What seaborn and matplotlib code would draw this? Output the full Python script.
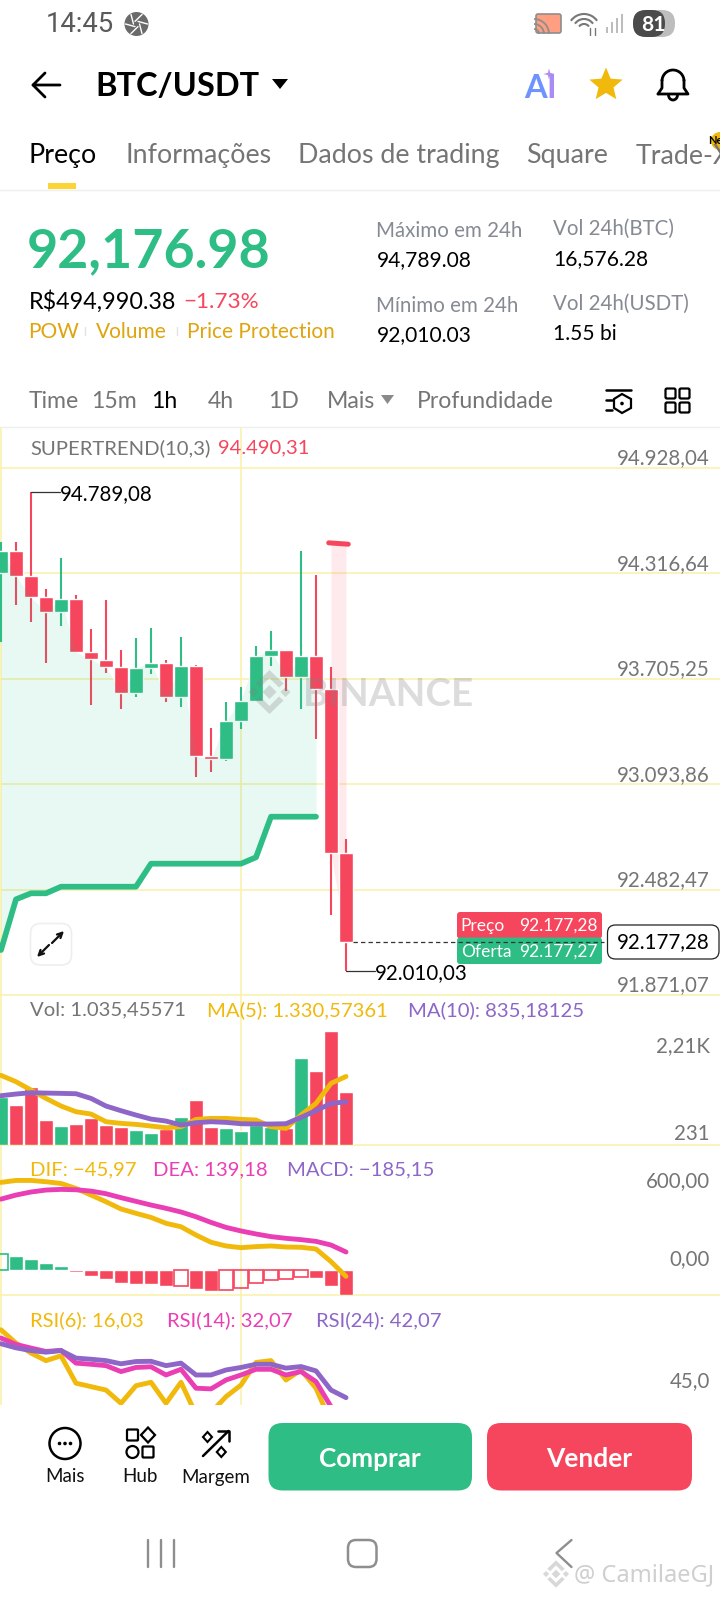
import numpy as np
import pandas as pd
import seaborn as sns
import matplotlib.pyplot as plt
from matplotlib.patches import FancyBboxPatch, Circle, Polygon, Arc, Rectangle

# candles
opens = [94317.2, 94446.6, 94301.5, 94178.0, 94094.5, 94168.1, 93859.0, 93814.3, 93772.0, 93621.1, 93767.9, 93798.6,
         93601.4, 93779.5, 93255.6, 93240.0, 93462.2, 93578.2, 93837.5, 93870.5, 93715.7, 93835.7, 93647.8, 92693.0]
closes = [94446.6, 94303.3, 94178.0, 94094.5, 94168.1, 93859.0, 93818.3, 93772.0, 93621.1, 93767.9, 93798.6, 93601.4,
          93779.5, 93255.6, 93240.0, 93462.2, 93578.2, 93837.5, 93870.5, 93715.7, 93835.7, 93647.8, 92693.0, 92177.28]
highs = [94498.8, 94498.8, 94789.08, 94226.1, 94404.2, 94191.3, 93992.4, 94160.6, 93870.5, 93941.9, 93998.2, 93814.3,
         93949.4, 93785.0, 93419.9, 93570.6, 93655.9, 93895.5, 93980.7, 93870.5, 94444.8, 94307.3, 93775.4, 92774.2]
lows = [93920.4, 94133.3, 94036.5, 93798.6, 94011.5, 93859.0, 93553.2, 93737.1, 93528.3, 93601.4, 93733.1, 93570.6,
        93538.8, 93137.3, 93166.3, 93230.1, 93412.3, 93572.4, 93781.2, 93636.2, 93531.8, 93354.3, 92335.1, 92010.03]
st_green = [92132.1, 92426.1, 92461.0, 92461.0, 92499.2, 92499.2, 92499.2, 92499.2, 92499.2, 92499.2, 92632.7, 92632.7,
            92632.7, 92632.7, 92632.7, 92632.7, 92632.7, 92669.8, 92905.3, 92905.3, 92905.3, 92905.3]
st_red = [94494.0, 94486.0]
price_ticks = [94928.04, 94316.64, 93705.25, 93093.86, 92482.47, 91871.07]
price_labels = ["94.928,04", "94.316,64", "93.705,25", "93.093,86", "92.482,47", "91.871,07"]

# volume panel
volumes = [924, 768, 1131, 476, 371, 398, 527, 384, 339, 287, 234, 308, 540, 866, 351, 332, 273, 384, 351, 320, 1690, 1431, 2223, 1035.46]
ma5 = [1352, 1228, 1066, 903, 754, 643, 598, 448, 416, 396, 364, 331, 351, 494, 513, 513, 494, 481, 351, 318, 578, 806, 1196, 1330.57]
ma10 = [955, 988, 1014, 1007, 1001, 994, 903, 754, 663, 578, 500, 461, 383, 429, 448, 435, 409, 403, 403, 409, 533, 663, 806, 835.18]

# macd panel
dif = [668, 683, 683, 673, 660, 622, 572, 521, 466, 433, 402, 357, 331, 268, 213, 185, 172, 180, 185, 177, 175, 162, 66, -45.97]
dea = [541, 572, 595, 610, 615, 612, 602, 582, 552, 524, 496, 471, 443, 407, 364, 326, 299, 276, 256, 243, 233, 220, 192, 139.18]
macd = [124, 111, 86, 56, 33, -12, -40, -66, -96, -104, -106, -119, -116, -144, -157, -152, -134, -99, -73, -66, -53, -56, -116, -185.15]
macd_hollow = [0, 12, 15, 16, 17, 18, 19, 20]

# rsi panel
rsi6 = [71.8, 66.0, 61.6, 58.3, 60.4, 48.4, 46.9, 45.4, 39.6, 47.3, 48.8, 39.6, 48.8, 34.7, 35.5, 42.5, 47.6, 57.5, 58.3, 49.8, 54.2, 46.2, 31.2, 16.03]
rsi14 = [68.2, 65.4, 63.8, 62.3, 62.8, 57.2, 56.7, 56.1, 53.5, 55.3, 55.6, 52.0, 54.5, 46.2, 45.9, 49.8, 52.0, 54.5, 54.5, 52.0, 53.5, 49.1, 38.1, 32.07]
rsi24 = [65.7, 63.9, 62.7, 62.0, 62.7, 59.4, 58.9, 58.3, 56.9, 57.9, 58.0, 56.1, 57.2, 52.0, 52.0, 54.2, 55.3, 56.7, 56.7, 55.0, 55.7, 53.8, 45.4, 42.07]

GREEN = "#2EBD85"
RED = "#F6465D"
YELLOW = "#F0B90B"
PINK = "#EA3FB4"
PURPLE = "#8D66C7"
GRID = "#FBF0A8"
GRAY = "#757575"
LIGHT = "#858A93"

sns.set_theme(style="white")
plt.rcParams["font.family"] = ["Lato", "DejaVu Sans"]

W, H = 720, 1600
fig = plt.figure(figsize=(W / 100, H / 100), dpi=100, facecolor="white")

idx = np.arange(len(closes))
colors = [GREEN if c >= o else RED for o, c in zip(opens, closes)]
hue = ["up" if c == GREEN else "down" for c in colors]
pal = {"up": GREEN, "down": RED}
XLIM = (-1 / 15, 719 / 15)


def panel(y0, y1, ylim):
    ax = fig.add_axes([0, 1 - y1 / H, 1, (y1 - y0) / H])
    ax.set_ylim(*ylim)
    return ax


def finish(ax):
    ax.set_xlim(*XLIM)
    ax.set_axis_off()
    ax.axvline(0, color=GRID, lw=1.1, zorder=1)
    ax.axvline(16, color=GRID, lw=1.1, zorder=1)


# pixel layer for everything that is app chrome
ui = fig.add_axes([0, 0, 1, 1], zorder=10)
ui.set_xlim(0, W)
ui.set_ylim(H, 0)
ui.set_axis_off()


def txt(x, y, s, size, color="black", ha="left", weight="normal", **kw):
    # Lato sits about a pixel high with va=center
    return ui.text(x, y + 1, s, fontsize=size, color=color, ha=ha, va="center", fontweight=weight, **kw)


def rbox(x0, y0, x1, y1, r, fc, ec="none", lw=0, z=2, target=None):
    p = FancyBboxPatch((x0, y0), x1 - x0, y1 - y0, boxstyle=f"round,pad=0,rounding_size={r}", fc=fc, ec=ec, lw=lw,
                       zorder=z, transform=ui.transData)
    (target or ui).add_patch(p)
    return p


def logo(cx, cy, k, color, alpha=1.0):
    d = [(0, 0, 7), (-16, 0, 5), (16, 0, 5)]
    for dx, dy, r in d:
        ui.add_patch(Polygon([(cx + k * (dx - r), cy + k * dy), (cx + k * dx, cy + k * (dy - r)),
                              (cx + k * (dx + r), cy + k * dy), (cx + k * dx, cy + k * (dy + r))],
                             fc=color, ec="none", alpha=alpha))
    for s in (-1, 1):
        ui.add_patch(Polygon([(cx - 14 * k, cy + s * 8.5 * k), (cx, cy + s * 22 * k), (cx + 14 * k, cy + s * 8.5 * k),
                              (cx + 9.5 * k, cy + s * 4.5 * k), (cx, cy + s * 14 * k), (cx - 9.5 * k, cy + s * 4.5 * k)],
                             fc=color, ec="none", alpha=alpha))


def star(cx, cy, r, n, inner, color):
    a = np.arange(2 * n) * np.pi / n - np.pi / 2
    rad = np.where(np.arange(2 * n) % 2 == 0, r, r * inner)
    ui.add_patch(Polygon(np.c_[cx + rad * np.cos(a), cy + rad * np.sin(a)], fc=color, ec="none"))


# ---- price panel
scale = (price_ticks[0] - price_ticks[-1]) / (995 - 468)
ax = panel(427, 995, (price_ticks[-1], price_ticks[0] + 41 * scale))
for p in price_ticks:
    ax.axhline(p, color=GRID, lw=1.1, zorder=1, clip_on=False)

bot = np.minimum(opens, closes)
top = np.maximum(opens, closes)
ax.vlines(idx, lows, highs, colors=colors, lw=1.5, zorder=3)
ax.bar(idx, top - bot, bottom=bot, width=0.867, color=colors, zorder=3)

ax.fill_between(idx[:22], st_green, closes[:22], color=GREEN, alpha=0.105, lw=0, zorder=4)
ax.fill_between(idx[22:], st_red, closes[22:], color=RED, alpha=0.11, lw=0, zorder=2)
sns.lineplot(x=idx[:22], y=st_green, color=GREEN, lw=4.1, ax=ax, zorder=5, errorbar=None, solid_capstyle="round")
sns.lineplot(x=[21.85, 23.15], y=st_red, color=RED, lw=3.6, ax=ax, zorder=5, errorbar=None, solid_capstyle="round")

# max / min call-outs
ax.plot([2, 3.93], [highs[2], highs[2]], color="#333333", lw=0.9, zorder=3)
ax.plot([23, 24.93], [lows[23], lows[23]], color="#333333", lw=0.9, zorder=3)
ax.annotate("94.789,08", (3.93, highs[2]), xytext=(0, -2), textcoords="offset pixels", fontsize=14.8, color="black", va="center")
ax.annotate("92.010,03", (24.93, lows[23]), xytext=(0, -2), textcoords="offset pixels", fontsize=14.8, color="black", va="center")

# bid / ask tags with the last price line through them
rbox(457, 912, 602, 938.5, 3, RED, z=6, target=ax)
rbox(457, 937.5, 602, 964, 3, GREEN, z=6, target=ax)
ax.plot([23.45, 40.2], [closes[-1], closes[-1]], color="#333333", lw=0.9, ls=(0, (3.5, 2.5)), zorder=7)
finish(ax)

for lab, p in zip(price_labels, price_ticks):
    ax.annotate(lab, (47.27, p), xytext=(0, 9.5), textcoords="offset pixels", fontsize=14.8, color=GRAY, ha="right", va="center", zorder=8)

# ---- volume panel
vol_k = 19.5
ax = panel(995, 1144.7, (0, 149.7 * vol_k))
df = pd.DataFrame({"i": idx, "vol": volumes, "dir": hue})
sns.barplot(data=df, x="i", y="vol", hue="dir", palette=pal, native_scale=True, dodge=False, legend=False,
            width=0.87, saturation=1, ax=ax, zorder=3)
sns.lineplot(x=idx, y=ma5, color=YELLOW, lw=3.5, ax=ax, zorder=4, errorbar=None)
sns.lineplot(x=idx, y=ma10, color=PURPLE, lw=3.5, ax=ax, zorder=5, errorbar=None)
ax.set_ylim(0, 149.7 * vol_k)
ax.axhline(0, color=GRID, lw=1.1, clip_on=False, zorder=1)
finish(ax)

# ---- macd panel
macd_k = 7.6
ax = panel(1144.7, 1294.7, (-24.4 * macd_k, 125.6 * macd_k))
df = pd.DataFrame({"i": idx, "macd": macd, "dir": ["up" if m > 0 else "down" for m in macd]})
hollow = df["i"].isin(macd_hollow)
sns.barplot(data=df[~hollow], x="i", y="macd", hue="dir", palette=pal, native_scale=True, dodge=False, legend=False,
            width=0.87, saturation=1, ax=ax, zorder=3)
sns.barplot(data=df[hollow], x="i", y="macd", hue="dir", palette=pal, native_scale=True, dodge=False, legend=False,
            width=0.87, saturation=1, fill=False, linewidth=1.2, ax=ax, zorder=3)
sns.lineplot(x=idx, y=dif, color=YELLOW, lw=3.5, ax=ax, zorder=4, errorbar=None)
sns.lineplot(x=idx, y=dea, color=PINK, lw=3.5, ax=ax, zorder=5, errorbar=None)
ax.set_ylim(-24.4 * macd_k, 125.6 * macd_k)
ax.axhline(-24.4 * macd_k, color=GRID, lw=1.1, clip_on=False, zorder=1)
finish(ax)

# ---- rsi panel
ax = panel(1294.7, 1405, (38.84, 87.2))
sns.lineplot(x=idx, y=rsi6, color=YELLOW, lw=3.5, ax=ax, zorder=4, errorbar=None)
sns.lineplot(x=idx, y=rsi14, color=PINK, lw=3.5, ax=ax, zorder=5, errorbar=None)
sns.lineplot(x=idx, y=rsi24, color=PURPLE, lw=3.5, ax=ax, zorder=6, errorbar=None)
ax.set_ylim(38.84, 87.2)
finish(ax)

# ---- chart legends and labels
LG = 14.6
txt(30, 447, "SUPERTREND(10,3)", LG, GRAY)
txt(218, 447, "94.490,31", LG, RED)
txt(30, 1009, "Vol: 1.035,45571", LG, GRAY)
txt(206.7, 1009, "MA(5): 1.330,57361", LG, YELLOW)
txt(408.3, 1009, "MA(10): 835,18125", LG, PURPLE)
txt(30, 1169, "DIF: −45,97", LG, YELLOW)
txt(153.3, 1169, "DEA: 139,18", LG, PINK)
txt(287.3, 1169, "MACD: −185,15", LG, PURPLE)
txt(30, 1319, "RSI(6): 16,03", LG, YELLOW)
txt(167.3, 1319, "RSI(14): 32,07", LG, PINK)
txt(316, 1319, "RSI(24): 42,07", LG, PURPLE)
for y, s in [(1045, "2,21K"), (1133, "231"), (1180, "600,00"), (1258.5, "0,00"), (1380, "45,0")]:
    txt(710, y, s, 14.8, GRAY, ha="right")

# tags text
txt(460.7, 925, "Preço", 12.5, "white")
txt(597.7, 925, "92.177,28", 12.5, "white", ha="right")
txt(460.7, 951, "Oferta", 12.5, "white")
txt(597.7, 951, "92.177,27", 12.5, "white", ha="right")
rbox(607.5, 925, 719, 959, 8, "white", ec="#222222", lw=0.9)
txt(710, 941, "92.177,28", 14.8, "black", ha="right")

# watermark
logo(269.5, 692, 1, "#808080", 0.27)
txt(303, 693, "BINANCE", 27.8, "#808080", weight="bold", alpha=0.27)

# expand button
rbox(30.5, 923.5, 71.5, 965, 10, "white", ec="#EEEEEE", lw=1.2)
ui.annotate("", (64, 931), (52, 943), arrowprops=dict(arrowstyle="->", color="#111111", lw=1.6, mutation_scale=9, shrinkA=0, shrinkB=0))
ui.annotate("", (37, 957), (49, 945), arrowprops=dict(arrowstyle="->", color="#111111", lw=1.6, mutation_scale=9, shrinkA=0, shrinkB=0))

# ---- status bar
txt(46, 24, "14:45", 19.8, "#5A5A5A", family="Roboto")
ui.add_patch(Circle((136.5, 24), 12, fc="#6A6A6A", ec="none"))
for a in np.arange(0, 360, 60):
    c, s = np.cos(np.radians(a)), np.sin(np.radians(a))
    ui.plot([136.5 + 3 * c, 136.5 + 11 * (c * 0.5 - s * 0.87)], [24 + 3 * s, 24 + 11 * (s * 0.5 + c * 0.87)], color="white", lw=1)
rbox(536, 14, 561, 33, 2, "#FF9E80", ec="#8E8E8E", lw=1.2)
for r in (5, 10, 15):
    ui.add_patch(Arc((534, 34), 2 * r, 2 * r, theta1=270, theta2=360, color="#8E8E8E", lw=1.3, zorder=3))
for r in (6, 11, 16):
    ui.add_patch(Arc((584, 30), 2 * r, 2 * r, theta1=215, theta2=325, color="#777777", lw=1.5))
ui.plot([590, 590], [28, 35], color="#777777", lw=1)
ui.plot([595, 595], [28, 35], color="#777777", lw=1)
for i, h in enumerate([6, 11, 15, 19]):
    ui.add_patch(Rectangle((606 + 5 * i, 33 - h), 2, h, fc="#BDBDBD", ec="none"))
rbox(633, 10, 675, 37, 13, "#BDBDBD")
rbox(633, 10, 665, 37, 13, "#4B4B4B", z=3)
txt(653, 24, "81", 15, "white", ha="center", weight="bold", zorder=4)

# ---- header
ui.plot([60, 33, 45], [85, 85, 73], color="black", lw=2, solid_capstyle="round")
ui.plot([33, 45], [85, 97], color="black", lw=2, solid_capstyle="round")
txt(95.5, 85, "BTC/USDT", 23.4, "black", weight="bold")
ui.add_patch(Polygon([(272, 79), (288, 79), (280, 89)], fc="black", ec="none"))
txt(524, 87, "A", 23.5, "#6E93FF", weight="bold")
txt(546, 87, "I", 23.5, "#A98BF5", weight="bold")
star(549, 74, 5.5, 4, 0.3, "#B58CF0")
star(606, 85, 17.5, 5, 0.45, YELLOW)
ui.plot([658, 662, 662], [94, 88, 80], color="black", lw=2)
ui.add_patch(Arc((673, 81), 22, 22, theta1=180, theta2=360, color="black", lw=2))
ui.plot([684, 684, 688, 658], [80, 88, 94, 94], color="black", lw=2)
ui.add_patch(Arc((673, 95), 9, 10, theta1=0, theta2=180, color="black", lw=2))

# tabs
TB = 19.3
txt(28.5, 155, "Preço", TB, "black")
txt(125.3, 155, "Informações", TB, GRAY)
txt(297.5, 155, "Dados de trading", TB, GRAY)
txt(526, 155, "Square", TB, GRAY)
txt(636, 155, "Trade-X", TB, GRAY)
ui.add_patch(Circle((720, 141), 9, fc=YELLOW, ec="none"))
txt(708, 140, "Ne", 8, "black", weight="bold")
ui.add_patch(Rectangle((48, 183), 28, 6, fc="#FCD535", ec="none"))
ui.plot([0, W], [189.5, 189.5], color="#EFEFEF", lw=1)

# ---- ticker
txt(27, 251, "92,176.98", 38.7, GREEN, weight="bold")
txt(28.5, 300.7, "R$494,990.38", 16.8, "black")
txt(183.7, 300.7, "−1.73%", 16.2, RED)
txt(28.5, 331, "POW", 15, "#DFA40E")
txt(96.4, 331, "Volume", 15, "#DFA40E")
txt(187.3, 331, "Price Protection", 15, "#DFA40E")
ui.plot([85.4, 85.4], [327, 335], color="#E3E3E3", lw=1)
ui.plot([176.8, 176.8], [327, 335], color="#E3E3E3", lw=1)
txt(376.5, 230, "Máximo em 24h", 14.8, LIGHT)
txt(376.5, 259, "94,789.08", 15.1, "black")
txt(376.5, 305, "Mínimo em 24h", 14.8, LIGHT)
txt(376.5, 334, "92,010.03", 15.1, "black")
txt(553.3, 227.7, "Vol 24h(BTC)", 14.8, LIGHT)
txt(553.3, 257.7, "16,576.28", 15.1, "black")
txt(553.3, 302.7, "Vol 24h(USDT)", 14.8, LIGHT)
txt(553.3, 332.7, "1.55 bi", 15.1, "black")

# ---- interval row
for x, s, c in [(28.5, "Time", GRAY), (91.5, "15m", GRAY), (151.5, "1h", "black"), (208, "4h", GRAY),
                (268.6, "1D", GRAY), (327, "Mais", GRAY), (416.4, "Profundidade", GRAY)]:
    txt(x, 400, s, 16.6, c)
ui.add_patch(Polygon([(381, 395), (394, 395), (387.5, 404)], fc="#8A8A8A", ec="none"))
ui.plot([606, 631], [389.5, 389.5], color="black", lw=1.8)
ui.plot([606, 612], [400, 400], color="black", lw=1.8)
ui.plot([606, 612], [410, 410], color="black", lw=1.8)
ui.add_patch(Polygon([(622, 394), (631, 399), (631, 408), (622, 413), (614, 408), (614, 399)], fc="white", ec="black", lw=1.6))
ui.add_patch(Circle((622, 403.5), 1.8, fc="black", ec="none"))
for x in (665.5, 679.5):
    for y in (388.5, 402.5):
        rbox(x, y, x + 10, y + 10, 1.5, "white", ec="black", lw=1.6)
ui.plot([0, W], [426.7, 426.7], color="#EFEFEF", lw=1)

# ---- bottom bar
ui.add_patch(Circle((65, 1443.5), 15.5, fc="white", ec="black", lw=1.8))
for dx in (-5.5, 0, 5.5):
    ui.add_patch(Circle((65 + dx, 1443.5), 1.8, fc="black", ec="none"))
rbox(127, 1429.5, 138, 1440.5, 1, "white", ec="black", lw=1.6)
rbox(142.5, 1446.5, 153.5, 1457.5, 1, "white", ec="black", lw=1.6)
ui.add_patch(Circle((132.5, 1452), 6, fc="white", ec="black", lw=1.6))
ui.add_patch(Polygon([(148, 1427.5), (155, 1435), (148, 1442.5), (141, 1435)], fc="white", ec="black", lw=1.6))
ui.plot([203, 228.5], [1456, 1431], color="black", lw=1.8)
ui.plot([218, 228.5, 228.5], [1431, 1431, 1441], color="black", lw=1.8)
for cx, cy in [(207.5, 1437), (221.3, 1452)]:
    ui.add_patch(Polygon([(cx, cy - 5), (cx + 4.5, cy), (cx, cy + 5), (cx - 4.5, cy)], fc="white", ec="black", lw=1.5))
for x, s in [(65, "Mais"), (140, "Hub"), (215.5, "Margem")]:
    txt(x, 1476, s, 13.5, "#111111", ha="center")
rbox(268.5, 1423, 472, 1490.5, 14, GREEN)
rbox(487, 1423, 692, 1490.5, 14, RED)
txt(370, 1458, "Comprar", 18.8, "white", ha="center", weight="bold", zorder=4)
txt(589, 1458, "Vender", 19, "white", ha="center", weight="bold", zorder=4)

# ---- nav bar and repost mark
for x in (148, 160.7, 173.5):
    ui.plot([x, x], [1540, 1567], color="#8E8E8E", lw=1.7)
rbox(348, 1540, 376.5, 1567, 8, "white", ec="#8E8E8E", lw=1.8)
ui.plot([571.5, 556.5, 571.5], [1540, 1553, 1567], color="#8E8E8E", lw=1.7)
logo(556, 1574, 0.62, "#D8D8D8")
txt(574, 1574, "@ CamilaeGJ", 17, "#CFCFCF", family="Noto Sans")

fig.savefig("out.png", dpi=100)
